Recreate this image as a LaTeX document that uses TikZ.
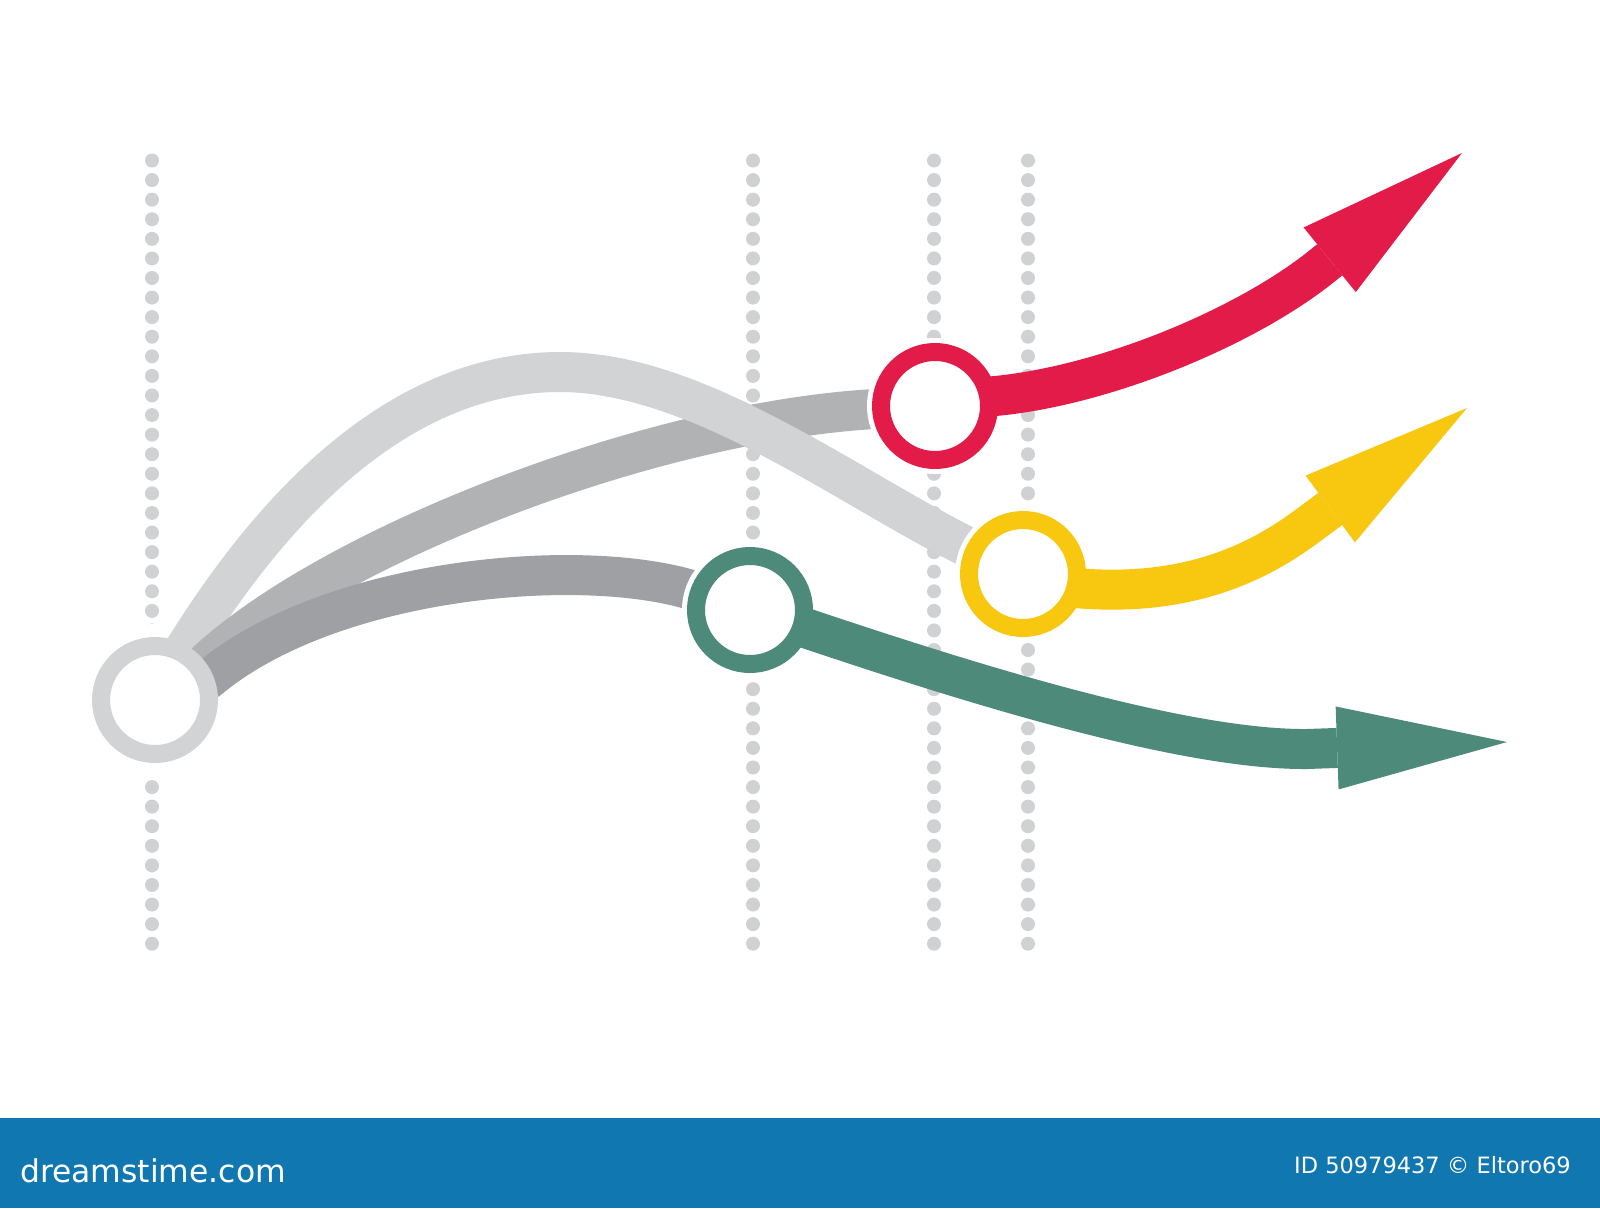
\documentclass[tikz,border=0pt]{standalone}
\usepackage{fontspec}
\newfontfamily\barfont{DejaVu Sans}
\usetikzlibrary{arrows.meta}

\definecolor{arcgrey}{HTML}{D1D3D4}
\definecolor{fangrey}{HTML}{B1B2B4}
\definecolor{lowgrey}{HTML}{9FA0A3}
\definecolor{dotgrey}{HTML}{D0D1D3}
\definecolor{upred}{HTML}{E31B48}
\definecolor{upyellow}{HTML}{F8C70F}
\definecolor{downgreen}{HTML}{4E8A79}
\definecolor{barblue}{HTML}{1077B1}

\pgfdeclarelayer{dots}
\pgfdeclarelayer{greys}
\pgfdeclarelayer{halos}
\pgfdeclarelayer{bands}
\pgfsetlayers{dots,greys,halos,bands,main}

\tikzset{
  ring/.style={circle,draw=#1,fill=white,line width=18pt,minimum size=108pt,
    inner sep=0pt,outer sep=0pt},
  band/.style={draw=#1,line width=40pt},
  arrowband/.style={band=#1,-{Triangle[length=170pt,width=83pt,line width=0pt]}},
  bartext/.style={text=white,inner sep=0pt}
}

\begin{document}
\begin{tikzpicture}[x=1pt,y=-1pt]
\useasboundingbox (0,0) rectangle (1600,1208);
% circles
\node[ring=arcgrey] (root) at (155,700) {};
\node[ring=upred] (red) at (935,406) {};
\node[ring=upyellow] (yel) at (1023,574) {};
\node[ring=downgreen] (grn) at (750,610) {};
\coordinate (redtip) at (1462,153);
\coordinate (yeltip) at (1467,408);
\coordinate (grntip) at (1507,742);

\begin{pgfonlayer}{dots}
\fill[white] (0,0) rectangle (1600,1208);
\foreach \x in {152,753,934,1028}
  \foreach \i in {0,...,40}
    \fill[dotgrey] (\x,{160.5+19.58*\i}) circle (7pt);
\fill[white] (root) circle (76pt);
\end{pgfonlayer}

% grey paths
\begin{pgfonlayer}{greys}
\draw[band=arcgrey] (root.60) .. controls (240,560) and (370,372) .. (560,372)
  .. controls (700,372) and (850,490) .. (yel);
\draw[band=fangrey] (root.35) .. controls (320,550) and (650,420) .. (red);
\draw[band=lowgrey] (root.20) .. controls (330,575) and (590,555) .. (grn);
\scope % arc over the middle one
\clip (600,300) rectangle (1000,600);
\draw[band=arcgrey] (root.60) .. controls (240,560) and (370,372) .. (560,372)
  .. controls (700,372) and (850,490) .. (yel);
\endscope
\end{pgfonlayer}

\begin{pgfonlayer}{halos}
\foreach \n in {red,yel,grn}
  \fill[white] (\n) circle (68pt);
\end{pgfonlayer}

% arrows
\begin{pgfonlayer}{bands}
\draw[arrowband=upred] (red.10) .. controls (1100,388) and (1245,328) .. (1322,266) -- (redtip);
\draw[arrowband=upyellow] (yel.-15) .. controls (1210,600) and (1282,545) .. (1318,518) -- (yeltip);
\draw[arrowband=downgreen] (grn.-18) .. controls (960,680) and (1180,750) .. (1307,749) -- (grntip);
\end{pgfonlayer}

% bar
\fill[barblue] (0,1118) rectangle (1600,1208);
\node[bartext,anchor=base west,font=\barfont\fontsize{31.4pt}{36pt}\selectfont]
  (site) at (20,1182) {dreamstime.com};
\node[bartext,anchor=base east,font=\barfont\fontsize{22.5pt}{27pt}\selectfont]
  (credit) at (1571,1173) {ID 50979437 © Eltoro69};
\end{tikzpicture}
\end{document}
